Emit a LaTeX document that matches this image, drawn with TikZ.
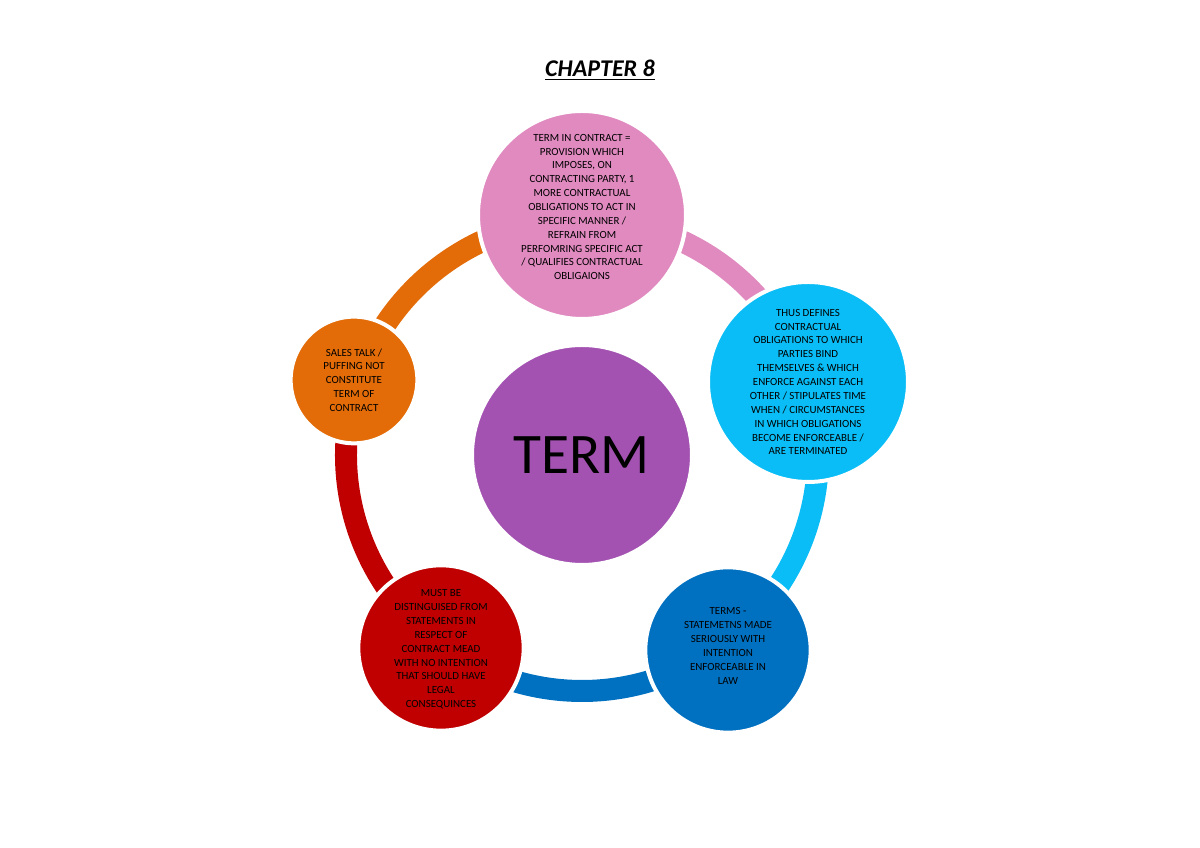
\documentclass[tikz,border=0pt]{standalone}
\usepackage{fontspec}
\setmainfont{Carlito}
\definecolor{cpink}{HTML}{E08AC0}
\definecolor{ccyan}{HTML}{0ABDF6}
\definecolor{cblue}{HTML}{0070C0}
\definecolor{cred}{HTML}{C00000}
\definecolor{corange}{HTML}{E36C09}
\definecolor{cpurple}{HTML}{A352B2}
\begin{document}
\begin{tikzpicture}[x=0.75pt,y=0.75pt,
  bub/.style={circle,draw=white,line width=3pt,inner sep=0pt},
  txt/.style={align=center,font=\fontsize{8.2pt}{10.4pt}\selectfont,text=black},
  ring/.style={line width=16.5pt}]
\useasboundingbox (0,0) rectangle (1200,848);
\coordinate (C) at (582,393);
\draw[ring,cpink] (C) ++(90:177pt) arc[start angle=90,end angle=18,radius=177pt];
\draw[ring,ccyan] (C) ++(18:177pt) arc[start angle=18,end angle=-53,radius=177pt];
\draw[ring,cblue] (C) ++(-53:177pt) arc[start angle=-53,end angle=-126,radius=177pt];
\draw[ring,cred] (C) ++(-126:177pt) arc[start angle=-126,end angle=-198,radius=177pt];
\draw[ring,corange] (C) ++(162:177pt) arc[start angle=162,end angle=90,radius=177pt];
\node (title) at (600,778) {\fontsize{18pt}{20pt}\selectfont\bfseries\itshape\underline{CHAPTER 8}};
\node[bub,fill=cpurple,minimum size=165pt] (term) at (582,393) {};
\node at (term.center) {\fontsize{43pt}{48pt}\selectfont TERM};
\node[bub,fill=cpink,minimum size=156pt] (top) at (582,633) {};
\node[txt] at ([yshift=6pt]top.center) {TERM IN CONTRACT =\\PROVISION WHICH\\IMPOSES, ON\\CONTRACTING PARTY, 1\\MORE CONTRACTUAL\\OBLIGATIONS TO ACT IN\\SPECIFIC MANNER /\\REFRAIN FROM\\PERFOMRING SPECIFIC ACT\\/ QUALIFIES CONTRACTUAL\\OBLIGAIONS};
\node[bub,fill=ccyan,minimum size=150pt] (right) at (808,466) {};
\node[txt] at (right.center) {THUS DEFINES\\CONTRACTUAL\\OBLIGATIONS TO WHICH\\PARTIES BIND\\THEMSELVES \& WHICH\\ENFORCE AGAINST EACH\\OTHER / STIPULATES TIME\\WHEN / CIRCUMSTANCES\\IN WHICH OBLIGATIONS\\BECOME ENFORCEABLE /\\ARE TERMINATED};
\node[bub,fill=cblue,minimum size=124pt] (br) at (728,198) {};
\node[txt] at ([yshift=3pt]br.center) {TERMS -\\STATEMETNS MADE\\SERIOUSLY WITH\\INTENTION\\ENFORCEABLE IN\\LAW};
\node[bub,fill=cred,minimum size=124pt] (bl) at (441,200) {};
\node[txt] at ([yshift=-1pt]bl.center) {MUST BE\\DISTINGUISED FROM\\STATEMENTS IN\\RESPECT OF\\CONTRACT MEAD\\WITH NO INTENTION\\THAT SHOULD HAVE\\LEGAL\\CONSEQUINCES};
\node[bub,fill=corange,minimum size=95pt] (left) at (354,468) {};
\node[txt] at (left.center) {SALES TALK /\\PUFFING NOT\\CONSTITUTE\\TERM OF\\CONTRACT};
\end{tikzpicture}
\end{document}
